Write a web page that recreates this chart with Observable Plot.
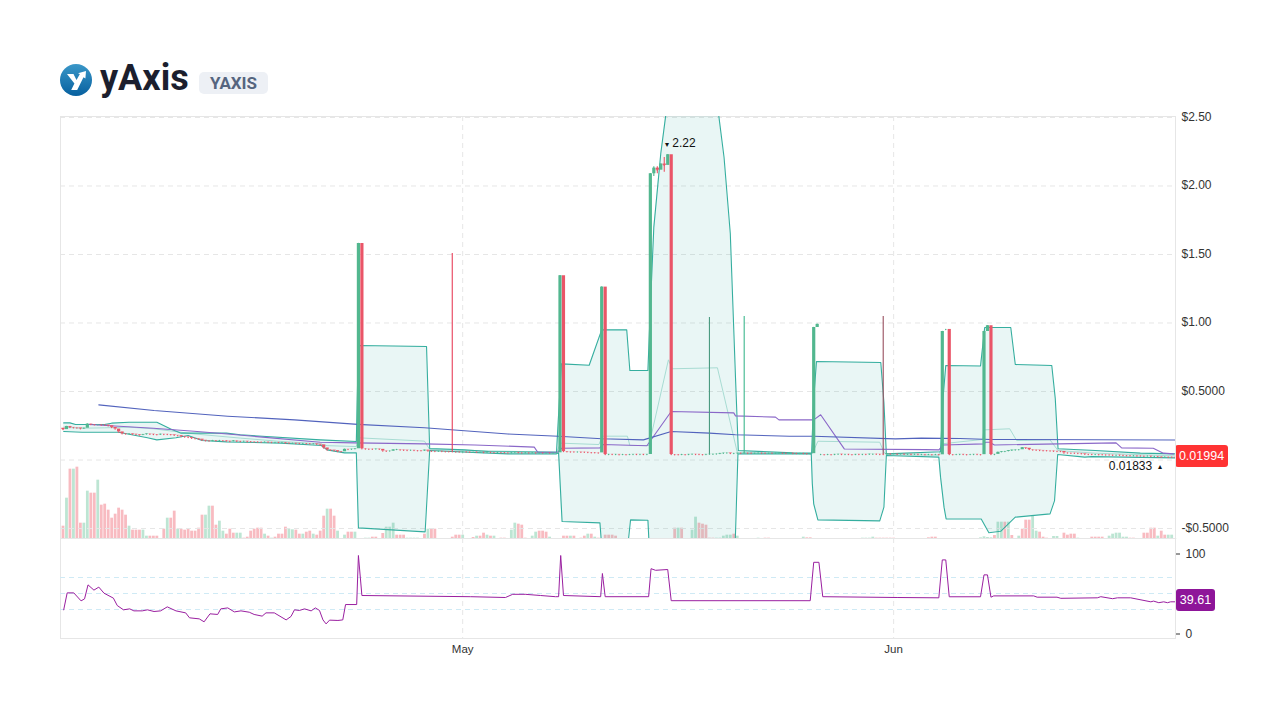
<!DOCTYPE html>
<html>
<head>
<meta charset="utf-8">
<script src="https://cdn.jsdelivr.net/npm/d3@7"></script>
<script src="https://cdn.jsdelivr.net/npm/@observablehq/plot@0.6"></script>
<style>
html,body{margin:0;padding:0;background:#fff;width:1280px;height:720px;overflow:hidden}
#wrap{position:relative;width:1280px;height:720px}
#wrap svg.p{position:absolute;left:0}
.hd{position:absolute;white-space:nowrap}
.tag{position:absolute;color:#fff;font:12.5px "Liberation Sans",Arial,sans-serif;border-radius:3px;text-align:center}
</style>
</head>
<body>
<div id="wrap">
  <svg class="hd" style="left:60px;top:64px" width="32" height="32" viewBox="0 0 32 32">
    <defs><linearGradient id="lg" x1="0" y1="0" x2="0" y2="1"><stop offset="0" stop-color="#3a97c8"/><stop offset="1" stop-color="#07609f"/></linearGradient></defs>
    <circle cx="16" cy="16" r="16" fill="url(#lg)"/>
    <path d="M7 10h6.500l3 6 3.400-6-1.900-.8L26 7l-.6 7.600-1.900-1.400-6.300 12.800h-6l3.200-6.500z" fill="#fff"/>
  </svg>
  <div class="hd" style="left:100px;top:56px;font:700 36px/44px Roboto,sans-serif;color:#1c1f2e">yAxis</div>
  <div class="hd" style="left:199px;top:72px;width:69px;height:22px;background:#edf0f5;border-radius:5px;text-align:center;font:700 17px/22px Roboto,sans-serif;color:#56657f">YAXIS</div>
  <div class="tag" style="left:1175px;top:445px;width:53px;height:22px;line-height:23px;background:#ff3333">0.01994</div>
  <div class="tag" style="left:1176px;top:589px;width:39px;height:22px;line-height:23px;background:#8e1599">39.61</div>
</div>
<script>
// Price closes per bar (rows of ten bars)
const closes = [
.222,.245,.238,.236,.234,.228,.232,.262,.259,.258,
.258,.256,.255,.250,.238,.226,.205,.192,.190,.192,
.188,.186,.182,.186,.190,.188,.186,.184,.188,.187,
.186,.184,.180,.178,.172,.168,.164,.158,.156,.152,
.144,.140,.138,.142,.140,.142,.141,.138,.136,.140,
.137,.136,.137,.134,.133,.132,.131,.130,.131,.129,
.128,.1285,.127,.1275,.124,.122,.1225,.121,.120,.1205,
.119,.118,.1185,.115,.110,.088,.074,.072,.068,.062,
.060,.078,.077,.079,.082,1.58,.082,.080,.079,.078,
.080,.078,.066,.064,.065,.074,.076,.074,.072,.070,
.0705,.069,.068,.067,.072,.065,.064,.063,.0635,.062,
.061,.060,.0595,.059,.058,.059,.058,.057,.0575,.056,
.0565,.055,.056,.055,.054,.055,.054,.053,.052,.054,
.056,.053,.052,.053,.052,.0525,.051,.052,.051,.052,
.051,.052,.0525,1.345,.062,.060,.059,.058,.0585,.057,
.056,.055,.054,.053,.052,1.262,.040,.041,.040,.041,
.039,.040,.039,.040,.041,.040,.041,.040,.041,2.089,
2.13,2.115,2.16,2.15,2.228,.040,.039,.038,.040,.039,
.041,.042,.041,.040,.039,.041,.042,.043,.044,.048,
.050,.051,.047,.048,.050,.049,.051,.050,.049,.050,
.051,.050,.049,.050,.049,.050,.051,.050,.049,.050,
.048,.047,.048,.047,.046,.0465,.967,.990,.040,.039,
.040,.039,.041,.042,.040,.041,.040,.039,.041,.040,
.041,.040,.042,.043,.042,.041,.040,.045,.044,.045,
.043,.044,.042,.043,.041,.042,.040,.041,.039,.040,
.039,.040,.038,.938,.953,.040,.039,.040,.041,.040,
.039,.040,.041,.040,.039,.938,.980,.040,.041,.056,
.060,.062,.068,.072,.074,.075,.090,.086,.076,.074,
.072,.070,.068,.067,.066,.064,.063,.062,.052,.051,
.050,.049,.048,.046,.042,.041,.040,.0405,.039,.038,
.037,.036,.035,.0355,.034,.033,.032,.031,.032,.030,
.029,.028,.0285,.026,.0265,.024,.021,.022,.021,.020,
.01994];
const firstOpen = .232;
const gapBars = [218,254];                 // bars that open at their close
const wickBars = [170,171,173,112,186,196,236];
const wickLows = [2.07,2.09,2.10,.06,.04,.05,.04];
const wickHighs = [2.14,2.14,2.208,1.507,1.04,1.047,1.047];
const wickColors = ["#4fb58c","#ea5364","#ea5364","#e8405a","#4a9a80","#3db88e","#99505f"];

// Volume per bar, with direction
const volumes = [
40,124,211,211,217,49,49,145,139,139,
178,103,106,88,64,76,94,88,73,40,
28,28,28,28,10,10,10,10,1,31,
64,64,85,31,31,28,31,25,25,34,
73,73,100,100,43,55,25,16,31,19,
19,19,4,7,25,31,34,34,16,10,
4,7,16,16,37,31,29,28,16,16,
22,25,16,13,25,70,91,91,70,25,
3,13,22,22,22,2,2,4,4,7,
7,1,18,37,37,49,13,13,13,4,
4,4,4,1,16,31,31,31,1,1,
1,1,7,13,13,13,1,1,6,10,
10,19,13,10,10,1,4,4,1,28,
49,46,43,4,1,10,22,25,25,22,
7,1,1,2,10,10,10,10,2,4,
10,16,16,7,4,1,13,13,13,10,
1,1,1,2,1,1,1,2,1,3,
2,2,2,2,1,1,34,34,34,1,
1,28,67,49,46,43,4,4,4,4,
10,13,13,16,10,2,1,1,1,1,
4,1,4,4,1,1,3,3,3,3,
3,1,1,7,5,5,3,3,2,1,
3,3,3,3,1,1,3,3,1,1,
4,4,4,7,4,4,4,4,4,4,
1,1,2,1,1,1,2,1,1,5,
7,7,3,2,2,1,2,1,2,1,
1,2,1,2,5,8,6,5,12,52,
52,52,52,12,1,10,31,58,58,72,
25,22,7,4,2,9,9,2,19,13,
16,16,4,1,3,1,7,7,7,7,
1,10,16,19,19,7,7,4,4,3,
1,19,19,34,34,10,25,13,13,13,
1];
const volumeDirs = [
"dududduudd","uddddddddu","ddduudddud","uddudddddd","duudduuddd",
"uuddddddud","udddduuddu","dduddduddu","uudduuduud","ddduuudddu",
"uuuddudddd","dddddudddu","ddududdddu","udddduuddd","uddddduddd",
"dududddddd","dddddddddu","udududdudd","uuuddddduu","uuududdddd",
"uddddddddd","dddudduudd","dduudddduu","uuuudddddd","dddudddddd",
"dddudddddd","ddduuuuudu","ududdudddu","udddduuddd","dduddddddd",
"duuuuuuddd","dddddudduu","u"].join("");

// Bollinger-style band and moving averages: [bar, price]
const upperBand = [[.2,.271],[2,.271],[3.6,.259],[12,.259],[14,.269],[19,.276],[27,.276],[31,.227],[34,.196],[47,.196],[51,.184],[74,.147],[84.4,.135],[85,.836],[104.6,.828],[105.5,.084],[115.6,.074],[122.4,.062],[142,.057],[143.4,.702],[151.4,.692],[155,.95],[162.2,.95],[163.1,.653],[168.3,.653],[169,1.115],[170,1.70],[172,2.237],[173.4,2.51],[175,2.75],[187,2.75],[188.7,2.51],[190.2,2.21],[192,1.653],[193.5,.60],[194.3,.07],[209.9,.052],[215.4,.05],[216,.45],[216.8,.719],[235.3,.712],[236.2,.42],[236.9,.045],[252.5,.06],[253.2,.45],[254,.69],[264,.686],[265.2,.967],[272.7,.967],[274,.697],[284.5,.69],[285.5,.45],[286.3,.082],[297,.069],[310,.05],[320,.045]];
const lowerBand = [[.2,.208],[5.5,.203],[16,.203],[24.3,.162],[27,.147],[32.5,.162],[36,.179],[40,.142],[47,.1326],[62.7,.123],[74.3,.106],[76,.074],[81,.0523],[84.4,.0526],[85,-.495],[104.2,-.524],[105.5,.069],[121,.0523],[128,.045],[142,.045],[142.6,.0523],[143.6,-.449],[154.5,-.459],[155.2,-.7],[162.2,-.7],[163.3,-.437],[168.3,-.44],[168.8,-.7],[193.3,-.7],[194.2,.045],[215.3,.045],[215.6,-.172],[216,-.32],[217.2,-.437],[235,-.444],[236.2,-.344],[236.9,.033],[252,.021],[252.5,-.125],[253.5,-.344],[254.1,-.43],[264.2,-.43],[266.4,-.531],[269.8,-.52],[274,-.417],[284,-.393],[285.3,-.296],[286.2,.04],[294,.021],[296,.025],[320,.0158]];
const middleBand = [[.2,.24],[5,.232],[12,.235],[19,.24],[26,.228],[38,.19],[51,.16],[62,.137],[74,.118],[76,.105],[84.4,.098],[85,.162],[104,.138],[105.5,.077],[115.6,.07],[142,.057],[143.2,.123],[154.2,.113],[155.2,.174],[162.4,.174],[163.1,.106],[168.6,.106],[174.2,.731],[175.3,.666],[188.3,.673],[194,.057],[215.5,.045],[216,.069],[217.2,.137],[235,.13],[236.2,.057],[236.9,.04],[252,.035],[252.8,.118],[264.5,.15],[265,.22],[272.4,.228],[274.4,.142],[284,.147],[286.3,.069],[297,.05],[320,.03]];
const blueAverage = [[10.3,.4027],[26.2,.361],[47.4,.32],[66.6,.293],[84.8,.26],[104,.235],[128,.19],[142.5,.174],[155,.155],[167,.147],[175,.208],[186,.196],[193.5,.184],[209,.174],[216,.174],[239.5,.154],[247,.16],[258,.157],[267,.15],[320,.146]];
const purpleAverage = [[7.5,.259],[26,.232],[37.7,.21],[47.4,.19],[74,.13],[84,.125],[104,.118],[118.5,.11],[135.6,.094],[136.6,.057],[142.3,.057],[143.5,.086],[154.5,.089],[155.2,.113],[168,.104],[175,.354],[193,.344],[193.5,.3224],[205,.313],[206,.293],[216,.293],[218,.33],[224.8,.081],[248,.076],[252,.074],[253.3,.11],[265,.118],[265.5,.13],[266.6,.13],[268,.11],[303,.125],[304.6,.089],[313.7,.086],[316.6,.05],[319.5,.045]];

// RSI: [bar, value]
const rsiLine = [[.2,29.6],[1.2,50.8],[3.1,50.8],[5.2,40.8],[6.2,43.3],[7.2,60.8],[8.9,54.2],[10.3,58],[11.8,50.4],[14.5,44.2],[15.6,35],[17.4,29.6],[19.2,30.8],[20.4,28.3],[22.8,28.3],[24.3,29.6],[26.2,27.5],[28.1,28.3],[30,33.3],[32.5,28.3],[35.3,25.8],[36.4,19.6],[39.2,18.3],[40.6,14.6],[42.3,24.6],[44.5,23.8],[45.4,30.8],[47.4,32],[49.3,27],[51.2,28.3],[53.6,26.6],[55,23.8],[57.3,21.7],[58.4,25.8],[60.8,25.8],[64.2,17],[65.6,21.3],[66.6,29.6],[68,28.8],[69.5,30.8],[71.4,28.3],[72.6,32],[73.8,28.8],[74.8,17],[75.7,12],[76.7,16.7],[79.1,16.3],[80.5,17],[81.3,36.2],[84.5,36.2],[85,97.5],[86,47.5],[117.3,46],[127.3,45],[129.4,49],[133,49],[137.4,47.5],[141.7,46],[142.6,46],[143.2,97.5],[144,47.5],[154.7,46],[155.2,75],[156,46],[168.5,46],[169.2,81],[170.5,79],[174,80],[175,41],[215,41],[216,89],[217.5,89],[218.6,46],[240,45],[252,44.6],[253,92],[254,92],[255,45.9],[264,45.9],[265,73.3],[266,73.3],[267,45.4],[267.8,47],[279.3,47],[280.3,45.4],[286,45.4],[287.1,44],[297.6,44.6],[298.6,46],[302,43.5],[303.4,44.6],[307.2,44.6],[313,39.6],[313.8,40.5],[315.3,38.5],[316.7,39.6],[317.8,38.5],[318.7,39.6],[319.9,39.61]];

const priceTicks = [-0.5,0,0.5,1,1.5,2,2.5];
const priceLabels = ["-$0.5000","","$0.5000","$1.00","$1.50","$2.00","$2.50"];
const rsiTicks = [0,100];
const rsiGuides = [30,50,70];
const monthBars = [115,239];
const monthLabels = ["May","Jun"];

const GREEN="#52b78f", RED="#ea5568", VG="#bde5d3", VR="#f8bbc1";
const W=1280, F='"Liberation Sans",Arial,sans-serif';
const xDomain=[-0.72,320.1];
const bars = closes.map((c,i)=>{
  const open = i===0?firstOpen:(gapBars.includes(i)?c:closes[i-1]);
  return {i,open,close:c,up:c>=open};
});
const wicks = wickBars.map((i,k)=>({i,lo:wickLows[k],hi:wickHighs[k],c:wickColors[k]}));
const vols = volumes.map((v,i)=>({i,v,up:volumeDirs[i]==="u"}));
const common={width:W,marginLeft:60,marginRight:105,x:{domain:xDomain,axis:null},style:{background:"transparent",fontFamily:F}};

const wrap=document.getElementById("wrap");
function add(svg,top){svg.classList.add("p");svg.style.top=top+"px";svg.style.maxWidth="none";wrap.appendChild(svg);}

add(Plot.plot({...common,height:539,marginTop:116,marginBottom:0,
  y:{domain:[0,1269],axis:null},
  marks:[Plot.ruleX(vols,{x:"i",y1:0,y2:"v",strokeWidth:2.8,stroke:d=>d.up?VG:VR})]
}),0);

const n=Math.max(upperBand.length,lowerBand.length);
const padded=a=>d3.range(n).map(k=>a[Math.min(k,a.length-1)]);
const U=padded(upperBand), L=padded(lowerBand);
const ln=(a,stroke,w=1)=>Plot.line(a,{x:d=>d[0],y:d=>d[1],stroke,strokeWidth:w,clip:true});

add(Plot.plot({...common,height:539,marginTop:116,marginBottom:0,
  y:{domain:[-0.58,2.507],axis:null},
  marks:[
    Plot.frame({stroke:"#e6e6e6"}),
    Plot.ruleY(priceTicks,{stroke:"#e6e6e6",strokeDasharray:"5,4"}),
    Plot.ruleX(monthBars,{stroke:"#e6e6e6",strokeDasharray:"5,4"}),
    Plot.area(d3.range(n),{x1:k=>U[k][0],y1:k=>U[k][1],x2:k=>L[k][0],y2:k=>L[k][1],fill:"#26a69a",fillOpacity:.1,clip:true}),
    ln(middleBand,"#a8dcd3"),
    ln(upperBand,"#35ae9f",1.1),
    ln(lowerBand,"#35ae9f",1.1),
    ln(purpleAverage,"#8a67c8",1.1),
    ln(blueAverage,"#5263bd",1.1),
    Plot.ruleX(wicks,{x:"i",y1:"lo",y2:"hi",stroke:"c",strokeWidth:1.1,clip:true}),
    Plot.ruleX(bars,{x:"i",y1:"open",y2:"close",stroke:d=>d.up?GREEN:RED,strokeWidth:3.2,clip:true}),
    Plot.dot(bars,{x:"i",y:"close",r:.75,fill:d=>d.up?GREEN:RED,clip:true}),
    Plot.text(["▾"],{x:[173.2],y:[2.305],text:d=>d,textAnchor:"start",fontSize:8,fill:"#111"}),
    Plot.text(["2.22"],{x:[175.3],y:[2.31],text:d=>d,textAnchor:"start",fontSize:12,fill:"#111"}),
    Plot.text(["0.01833"],{x:[313.4],y:[-.042],text:d=>d,textAnchor:"end",fontSize:12,fill:"#111"}),
    Plot.text(["▴"],{x:[315.2],y:[-.049],text:d=>d,textAnchor:"start",fontSize:8,fill:"#111"}),
    Plot.axisY({anchor:"right",ticks:priceTicks,tickFormat:v=>priceLabels[priceTicks.indexOf(v)],tickSize:0,tickPadding:6,fontSize:12,dy:-0.5,color:"#333",label:null})
  ]
}),0);

add(Plot.plot({...common,height:122,marginTop:0,marginBottom:22,
  y:{domain:[-6.25,118.75],axis:null},
  marks:[
    Plot.frame({stroke:"#e6e6e6"}),
    Plot.ruleY(rsiGuides,{stroke:"#cfeaf5",strokeDasharray:"5,4"}),
    Plot.ruleX(monthBars,{stroke:"#e6e6e6",strokeDasharray:"5,4"}),
    ln(rsiLine,"#9a1fa0"),
    Plot.axisY({anchor:"right",ticks:rsiTicks,tickSize:4,tickPadding:6,fontSize:12,dy:0.5,color:"#333",label:null}),
    Plot.axisX({anchor:"bottom",ticks:monthBars,tickFormat:v=>monthLabels[monthBars.indexOf(v)],tickSize:0,tickPadding:6,fontSize:11.5,color:"#333",label:null})
  ]
}),538);
</script>
</body>
</html>
